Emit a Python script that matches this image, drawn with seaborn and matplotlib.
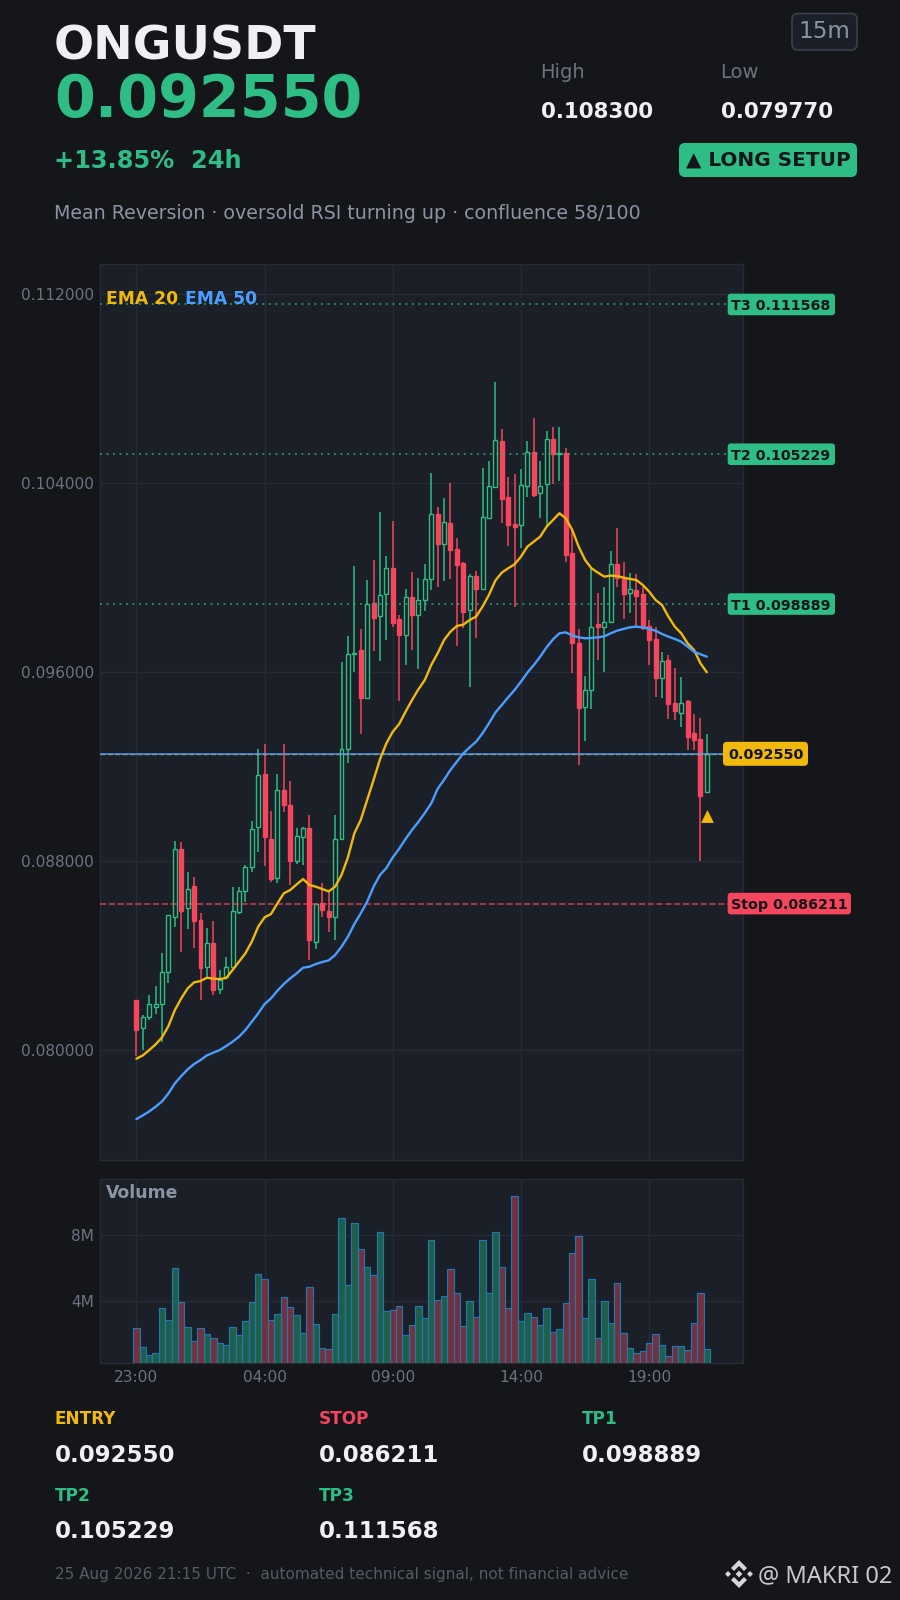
import numpy as np
import pandas as pd
import matplotlib
matplotlib.use("Agg")
import matplotlib.pyplot as plt
import seaborn as sns
from matplotlib.patches import FancyBboxPatch, Polygon
from matplotlib.transforms import Affine2D

# prices are in thousandths of a USDT
opens = [82.129,80.931,81.397,81.820,81.947,83.302,85.630,88.508,86.011,86.942,85.516,83.513,84.529,82.582,83.090,83.539,85.867,86.756,87.746,89.440,
         91.696,88.932,87.306,91.006,90.384,88.026,89.042,89.397,84.597,86.223,85.897,85.655,88.957,92.741,96.763,96.945,94.926,98.922,98.397,99.328,
         100.403,98.244,97.592,99.175,98.414,99.049,99.963,102.689,101.419,102.308,101.207,100.615,98.625,100.065,99.540,102.520,103.832,105.792,103.408,102.278,
         102.223,103.874,105.313,103.578,103.959,105.864,105.250,105.271,101.038,97.228,94.545,95.239,98.045,97.906,98.143,100.572,99.980,99.345,99.485,99.316,
         97.961,97.398,95.772,96.522,94.689,94.291,94.786,93.419,93.177,90.947]
highs = [82.129,81.482,82.354,82.735,84.131,85.715,88.873,88.830,87.560,87.349,85.799,85.190,85.486,83.399,83.962,86.925,86.925,87.831,89.719,92.767,
         92.966,90.142,91.709,92.966,91.412,89.397,89.465,89.973,86.223,87.094,86.714,89.973,96.437,97.550,100.513,97.834,99.921,100.767,102.799,100.937,
         102.418,98.426,99.540,100.259,99.980,100.598,104.424,103.011,103.392,104.027,101.699,100.683,100.175,100.302,104.662,104.958,108.300,106.300,104.281,104.408,
         104.619,105.804,106.778,104.958,106.228,106.372,106.372,105.508,102.024,97.846,95.857,100.471,99.345,99.599,101.148,102.122,100.683,100.191,100.149,99.624,
         98.215,97.931,96.873,96.720,96.196,95.789,94.828,94.248,94.054,93.376]
lows = [79.770,80.013,81.283,81.537,80.364,82.836,85.207,84.148,85.135,84.318,82.129,83.090,82.328,82.383,83.018,83.539,85.757,86.290,87.560,88.394,
        87.801,87.111,87.069,90.075,86.997,87.873,87.844,83.810,84.275,85.630,84.995,84.656,88.957,92.174,96.001,93.376,94.926,96.890,96.467,97.355,
        97.918,94.786,96.297,96.932,96.128,98.583,99.472,99.599,99.866,99.938,97.101,97.863,95.366,97.440,99.540,102.520,103.832,102.308,101.347,98.765,
        101.250,103.408,103.408,102.532,102.164,103.959,104.099,100.657,95.958,92.077,93.105,94.435,96.522,96.001,98.143,99.599,98.244,98.524,97.863,97.791,
        96.310,94.968,94.900,94.011,93.969,93.673,92.712,92.712,88.013,90.947]
closes = [80.859,81.397,81.947,81.947,83.302,85.715,88.508,85.909,86.815,85.486,83.497,84.529,82.553,82.976,83.539,85.884,86.731,87.746,89.355,91.653,
          89.042,87.251,91.006,90.396,88.026,89.059,89.397,84.669,86.180,85.952,85.655,88.932,92.741,96.763,96.800,94.926,98.879,98.312,99.260,100.403,
          98.100,97.592,99.175,98.426,99.049,99.938,102.689,101.444,102.350,101.191,100.555,98.566,100.065,99.540,102.562,103.874,105.821,103.349,102.249,102.164,
          103.916,105.313,103.519,103.874,105.864,105.229,105.280,100.979,97.228,94.502,95.239,97.931,97.918,98.117,100.572,99.992,99.302,99.514,99.243,97.863,
          97.381,95.772,96.467,94.672,94.375,94.689,93.275,93.148,90.777,92.550]
ema20 = [79.646,79.787,80.013,80.253,80.549,81.029,81.706,82.200,82.623,82.877,82.934,83.075,83.032,83.018,83.061,83.399,83.752,84.105,84.599,85.234,
         85.629,85.770,86.221,86.645,86.786,87.026,87.251,86.997,86.927,86.828,86.729,86.927,87.421,88.168,89.184,89.749,90.596,91.442,92.317,92.994,
         93.488,93.813,94.335,94.828,95.280,95.675,96.310,96.804,97.368,97.721,97.961,98.017,98.215,98.356,98.779,99.273,99.880,100.218,100.402,100.571,
         100.895,101.319,101.530,101.742,102.165,102.448,102.730,102.519,102.025,101.319,100.755,100.402,100.219,100.049,100.092,100.078,100.007,99.950,99.908,99.697,
         99.414,99.062,98.850,98.356,97.933,97.651,97.227,96.945,96.381,96.000]
ema50 = [77.092,77.247,77.416,77.614,77.840,78.178,78.602,78.912,79.194,79.420,79.589,79.787,79.900,80.013,80.182,80.365,80.577,80.860,81.212,81.565,
         81.960,82.200,82.525,82.807,83.047,83.258,83.498,83.540,83.653,83.738,83.809,84.034,84.387,84.810,85.346,85.798,86.292,86.927,87.421,87.717,
         88.168,88.535,88.950,89.330,89.670,90.050,90.450,91.070,91.450,91.870,92.218,92.571,92.825,93.065,93.417,93.840,94.292,94.617,94.941,95.252,
         95.604,95.985,96.310,96.662,97.058,97.396,97.650,97.690,97.552,97.481,97.439,97.453,97.481,97.524,97.651,97.763,97.834,97.905,97.933,97.905,
         97.834,97.763,97.622,97.510,97.411,97.298,97.086,96.874,96.762,96.663]
volume_m = [2.36,1.21,0.73,0.85,3.58,2.85,6.00,3.94,2.42,1.58,2.36,2.00,1.76,1.45,1.33,2.42,1.94,2.79,3.94,5.64,
            5.33,2.85,3.21,4.24,3.64,3.15,2.06,4.85,2.61,1.15,1.09,3.21,9.03,4.97,8.73,7.15,6.06,5.58,8.18,3.39,
            3.45,3.70,1.94,2.55,3.70,2.97,7.70,4.06,4.30,5.94,4.48,2.48,4.00,3.03,7.70,4.48,8.18,6.06,3.58,10.36,
            2.79,3.27,3.03,2.55,3.58,2.12,2.30,3.88,6.91,7.94,2.97,5.33,1.76,4.00,2.67,5.09,2.06,1.15,0.85,0.97,
            1.45,2.00,1.33,0.67,1.27,1.27,1.03,2.67,4.48,1.09]
price_ticks = [0.080, 0.088, 0.096, 0.104, 0.112]
price_tick_labels = ["0.080000", "0.088000", "0.096000", "0.104000", "0.112000"]
time_ticks = [0, 20, 40, 60, 80]
time_labels = ["23:00", "04:00", "09:00", "14:00", "19:00"]
vol_ticks = [4, 8]
vol_labels = ["4M", "8M"]
entry, stop, tp1, tp2, tp3 = 0.092550, 0.086211, 0.098889, 0.105229, 0.111568
signal_price = 0.089905

BG, PANEL, GRID = "#14161a", "#1b1f27", "#272b34"
GREEN, RED, GOLD, BLUE = "#2ebd85", "#f6465d", "#f0b90b", "#4a9eff"
WHITE, MUTED, DIM, FOOT = "#eef0f4", "#8b94a3", "#6b7280", "#555b66"

sns.set_theme(style="dark", rc={"figure.facecolor": BG, "axes.facecolor": PANEL, "savefig.facecolor": BG})
plt.rcParams["font.family"] = ["DejaVu Sans"]

W, H = 900, 1600
fig = plt.figure(figsize=(W / 100, H / 100), dpi=100)
px = Affine2D().scale(1, -1).translate(0, H)


def axes_px(x0, y0, x1, y1):
    return fig.add_axes([x0 / W, 1 - y1 / H, (x1 - x0) / W, (y1 - y0) / H])


def txt(x, y, s, **kw):
    return fig.text(x, y, s, transform=px, **kw)


def box(x0, y0, x1, y1, fc, ec="none", lw=0, r=4, z=10):
    fig.add_artist(FancyBboxPatch((x0 + r, y0 + r), x1 - x0 - 2 * r, y1 - y0 - 2 * r,
                                  boxstyle=f"round,pad={r},rounding_size={r}", fc=fc, ec=ec, lw=lw,
                                  transform=px, zorder=z))


ax = axes_px(100, 264, 743, 1160)
av = axes_px(100, 1179, 743, 1363)
XLIM = (-5.68, 94.64)

# ---------- price panel
idx = np.arange(len(opens))
df = pd.DataFrame({"i": idx, "o": np.array(opens) / 1000, "h": np.array(highs) / 1000,
                   "l": np.array(lows) / 1000, "c": np.array(closes) / 1000,
                   "e20": np.array(ema20) / 1000, "e50": np.array(ema50) / 1000, "v": volume_m})
df["up"] = df.c >= df.o
ccol = df.up.map({True: GREEN, False: RED})
ax.vlines(df.i, df.l, df.h, colors=ccol, lw=1.1, zorder=2)
top = df[["o", "c"]].max(axis=1)
bot = df[["o", "c"]].min(axis=1)
face = df.up.map({True: PANEL, False: RED})
ax.bar(df.i, (top - bot).clip(lower=0.00004), bottom=bot, width=0.62, color=face, edgecolor=ccol, lw=1.0, zorder=3)

sns.lineplot(data=df, x="i", y="e20", ax=ax, color=GOLD, lw=1.7, zorder=6, estimator=None)
sns.lineplot(data=df, x="i", y="e50", ax=ax, color=BLUE, lw=1.7, zorder=6, estimator=None)

for lv in (tp1, tp2, tp3):
    ax.axhline(lv, color=GREEN, alpha=0.75, lw=1.3, dashes=(1, 2.6), zorder=5)
ax.axhline(stop, color=RED, alpha=0.75, lw=1.2, ls="--", zorder=5)
ax.axhline(entry, color=GOLD, alpha=0.8, lw=1.0, ls="--", zorder=5)
ax.axhline(entry, color=BLUE, alpha=0.85, lw=1.2, zorder=5)
ax.scatter([df.i.iloc[-1]], [signal_price], marker="^", s=85, color=GOLD, linewidths=0, zorder=7)

ax.set_xlim(*XLIM)
ax.set_ylim(0.07536, 0.11328)
ax.set_yticks(price_ticks)
ax.set_yticklabels(price_tick_labels)
ax.set_xticks(time_ticks)
ax.set_xticklabels([])
ax.set_xlabel("")
ax.set_ylabel("")

# ---------- volume panel
pal = {True: "#1f5e48", False: "#75303d"}
sns.barplot(data=df, x="i", y="v", hue="up", palette=pal, native_scale=True, dodge=False, width=1.0,
            legend=False, saturation=1, edgecolor="#1f78b4", linewidth=0.85, ax=av, zorder=3, errorbar=None)
av.set_xlim(*XLIM)
av.set_ylim(0.24, 11.41)
av.set_yticks(vol_ticks)
av.set_yticklabels(vol_labels)
av.set_xticks(time_ticks)
av.set_xticklabels(time_labels)
av.set_xlabel("")
av.set_ylabel("")

for a in (ax, av):
    a.set_axisbelow(True)
    a.grid(True, color=GRID, lw=1.0)
    a.tick_params(axis="both", length=0, colors=DIM, labelsize=11.1, pad=4.5)
    for s in a.spines.values():
        s.set_color(GRID)
        s.set_linewidth(1.0)
av.tick_params(axis="x", pad=5)

fig.canvas.draw()


# ---------- level tags
def ypx(level):
    return H - ax.transData.transform((0, level))[1]


for name, lv, col, xr in (("T3", tp3, GREEN, 835), ("T2", tp2, GREEN, 835), ("T1", tp1, GREEN, 835), ("Stop", stop, RED, 851)):
    y = ypx(lv)
    box(727.7, y - 10.8, xr, y + 10.8, col, r=3)
    txt(731, y + 0.3, f"{name} {lv:.6f}", color=BG, fontsize=10.3, fontweight="bold",
        va="center_baseline", ha="left", zorder=11)
y = ypx(entry)
box(723, y - 12, 808, y + 12, GOLD, r=4)
txt(728, y - 0.5, f"{entry:.6f}", color=BG, fontsize=10.4, fontweight="bold",
    va="center_baseline", ha="left", zorder=11)

txt(106, 304, "EMA 20", color=GOLD, fontsize=12.3, fontweight="bold", va="baseline", zorder=12)
txt(185, 304, "EMA 50", color=BLUE, fontsize=12.3, fontweight="bold", va="baseline", zorder=12)
txt(106, 1197.7, "Volume", color=MUTED, fontsize=12.4, fontweight="bold", va="baseline", zorder=12)

# ---------- header
txt(54, 60, "ONGUSDT", color=WHITE, fontsize=34, fontweight="bold", va="baseline")
txt(54, 117, f"{entry:.6f}", color=GREEN, fontsize=42.3, fontweight="bold", va="baseline")
txt(54, 168, "+13.85%  24h", color=GREEN, fontsize=17.4, fontweight="bold", va="baseline")
txt(54, 219, "Mean Reversion · oversold RSI turning up · confluence 58/100", color=MUTED, fontsize=13.65, va="baseline")

box(792, 13.5, 857, 50, PANEL, ec="#3a404c", lw=1.2, r=6)
txt(824.5, 38.5, "15m", color=MUTED, fontsize=16.7, ha="center", va="baseline", zorder=11)

txt(540.5, 78, "High", color=DIM, fontsize=14, va="baseline")
txt(720.5, 78, "Low", color=DIM, fontsize=14, va="baseline")
txt(540.5, 118, "0.108300", color=WHITE, fontsize=15.4, fontweight="bold", va="baseline")
txt(720.5, 118, "0.079770", color=WHITE, fontsize=15.4, fontweight="bold", va="baseline")

box(679, 143, 857, 177, GREEN, r=6)
txt(686, 166, "▲ LONG SETUP", color=BG, fontsize=14.4, fontweight="bold", va="baseline", zorder=11)

# ---------- level summary
cols = [54.6, 318.4, 582]
rows = [(1424.3, 1461.7), (1501, 1538.3)]
cards = [("ENTRY", entry, GOLD, 0, 0), ("STOP", stop, RED, 1, 0), ("TP1", tp1, GREEN, 2, 0),
         ("TP2", tp2, GREEN, 0, 1), ("TP3", tp3, GREEN, 1, 1)]
for lab, v, c, ci, ri in cards:
    txt(cols[ci], rows[ri][0], lab, color=c, fontsize=12.2, fontweight="bold", va="baseline")
    txt(cols[ci], rows[ri][1], f"{v:.6f}", color=WHITE, fontsize=16.5, fontweight="bold", va="baseline")

txt(54.6, 1579.3, "25 Aug 2026 21:15 UTC  ·  automated technical signal, not financial advice",
    color=FOOT, fontsize=10.96, va="baseline")

# ---------- watermark
LOGO = "#d6d6d6"
cx, cy = 739, 1574


def poly(points):
    fig.add_artist(Polygon([(cx + a, cy + b) for a, b in points], closed=True, fc=LOGO, ec="none", transform=px, zorder=11))


poly([(-8, -6), (0, -14), (8, -6), (5, -3), (0, -8), (-5, -3)])
poly([(-8, 6), (0, 14), (8, 6), (5, 3), (0, 8), (-5, 3)])
poly([(0, -3.4), (3.4, 0), (0, 3.4), (-3.4, 0)])
poly([(-11, -3), (-8, 0), (-11, 3), (-14, 0)])
poly([(11, -3), (14, 0), (11, 3), (8, 0)])
txt(758, 1582, "@ MAKRI 02", color="#c8c8c8", fontsize=17, family="Noto Sans", va="baseline", zorder=11)

fig.savefig("out.png", dpi=100, facecolor=BG)
